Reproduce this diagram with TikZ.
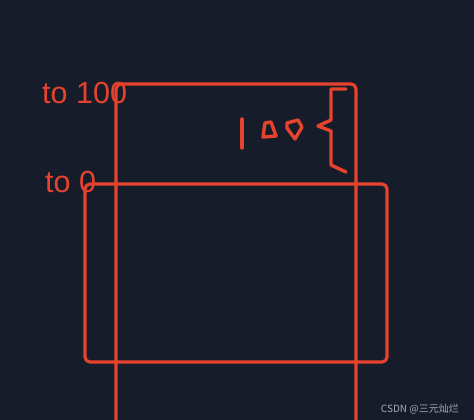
\documentclass[tikz,border=0pt]{standalone}
\usepackage{fontspec}
\setmainfont{Liberation Sans}
\newfontfamily\cjkfont{Noto Sans CJK SC}
\definecolor{board}{HTML}{171C2B}
\definecolor{pen}{HTML}{E5432D}
\definecolor{mark}{HTML}{A9ABB0}
\tikzset{
  penline/.style={color=pen,line width=3.2pt,line cap=round,line join=round},
  inkline/.style={color=pen,line width=3.4pt,line cap=round,line join=round},
  label/.style={text=pen,font=\fontsize{30.5}{31}\selectfont,inner sep=0pt}
}
\begin{document}
\begin{tikzpicture}[x=1pt,y=-1pt]
   \fill[board] (0,0) rectangle (474,420);
   \useasboundingbox (0,0) rectangle (474,420);

   % labels
   \node[label,anchor=base west] (top) at (42,103) {to 100};
   \node[label,anchor=base west] (bottom) at (45,192) {to 0};

   % moving box, open at the bottom
   \draw[penline,rounded corners=5pt] (116,424) -- (116,84) -- (356,84) -- (356,424);

   % visible box
   \draw[penline,rounded corners=5pt] (85,184) rectangle (387,362);

   % hand written 100 and brace
   \begin{scope}
      \draw[inkline] (242,119) -- (242,148);
      \draw[inkline] (265,123) -- (271,122) -- (276,136) -- (263,137) -- (264,130) -- cycle;
      \draw[inkline] (287,123) -- (298,120) -- (302,127) -- (295,139) -- (287,128) -- cycle;
      \draw[inkline] (346,89) -- (331,89) -- (331,120) -- (318,126) -- (331,131) -- (331,165) -- (346,172);
   \end{scope}

   \node[text=mark,font=\cjkfont\fontsize{10}{11}\selectfont,anchor=base east,inner sep=0pt]
      (credit) at (459,412) {CSDN @三元灿烂};
\end{tikzpicture}
\end{document}
